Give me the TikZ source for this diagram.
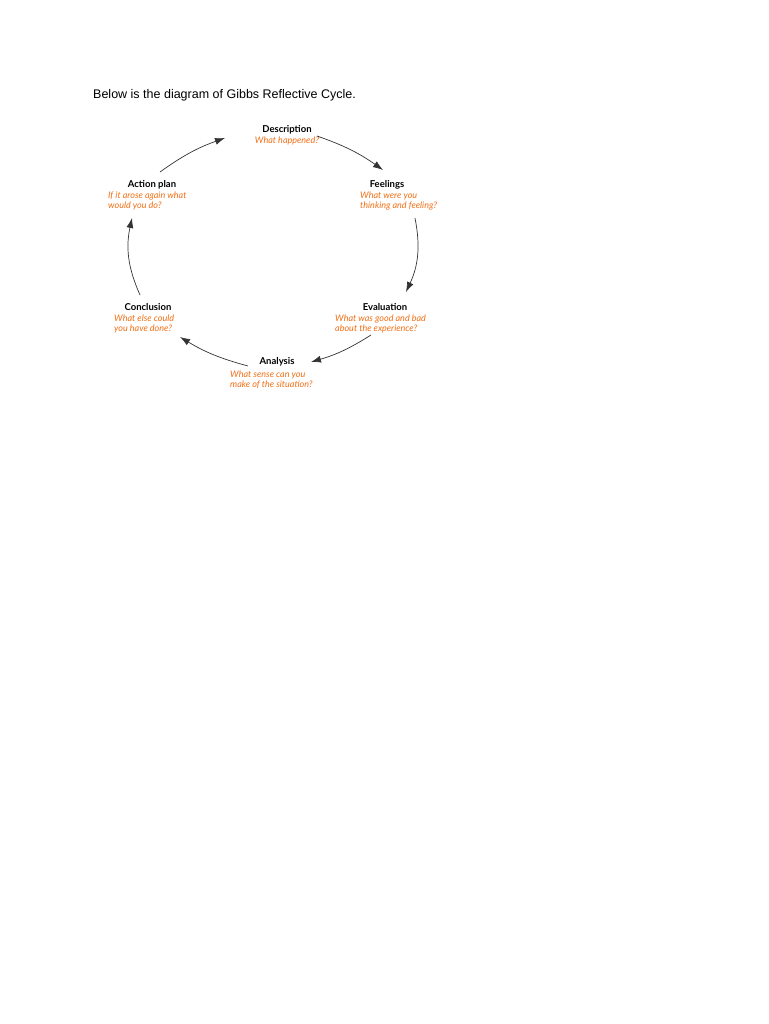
\documentclass[tikz,border=0pt]{standalone}
\usepackage{fontspec}
\setmainfont{Liberation Sans}
\newfontfamily\lbl{Lato}
\usetikzlibrary{arrows.meta}
\definecolor{qorange}{RGB}{240,110,20}
\begin{document}
\begin{tikzpicture}[x=1pt,y=-1pt,
  head/.style={font=\lbl\bfseries\fontsize{9.5}{10}\selectfont, inner sep=0pt},
  qtext/.style={font=\lbl\itshape\fontsize{9}{9.5}\selectfont, text=qorange, inner sep=0pt, align=left},
  cyc/.style={draw=black!80, line width=0.7pt, -{Latex[length=10pt,width=7pt]}}]
\useasboundingbox (0,0) rectangle (768,1024);
\node[anchor=west, inner sep=0pt, font=\fontsize{12.5}{13}\selectfont] (title) at (93,95) {Below is the diagram of Gibbs Reflective Cycle.};
\node[head] (desc) at (287,130) {Description};
\node[qtext] (descq) at (287,141) {What happened?};
\node[head] (feel) at (387,185) {Feelings};
\node[qtext, anchor=north west] (feelq) at (360,192) {What were you\\thinking and feeling?};
\node[head] (act) at (152,185) {Action plan};
\node[qtext, anchor=north west] (actq) at (108,192) {If it arose again what\\would you do?};
\node[head] (conc) at (148,307) {Conclusion};
\node[qtext, anchor=north west] (concq) at (114,315) {What else could\\you have done?};
\node[head] (eval) at (385,307) {Evaluation};
\node[qtext, anchor=north west] (evalq) at (335,315) {What was good and bad\\about the experience?};
\node[head] (ana) at (277,362) {Analysis};
\node[qtext, anchor=north west] (anaq) at (230,371) {What sense can you\\make of the situation?};
\coordinate (a1s) at (317,136); \coordinate (a1e) at (383,170);
\coordinate (a2s) at (415,218); \coordinate (a2e) at (406,292);
\coordinate (a3s) at (371,335); \coordinate (a3e) at (311,362);
\coordinate (a4s) at (248,366); \coordinate (a4e) at (180,337);
\coordinate (a5s) at (140,295); \coordinate (a5e) at (132,218);
\coordinate (a6s) at (160,172); \coordinate (a6e) at (225,138);
\draw[cyc] (a1s) to[bend left=8] (a1e);
\draw[cyc] (a2s) to[bend left=18] (a2e);
\draw[cyc] (a3s) to[bend left=8] (a3e);
\draw[cyc] (a4s) to[bend left=8] (a4e);
\draw[cyc] (a5s) to[bend left=18] (a5e);
\draw[cyc] (a6s) to[bend left=8] (a6e);
\end{tikzpicture}
\end{document}
